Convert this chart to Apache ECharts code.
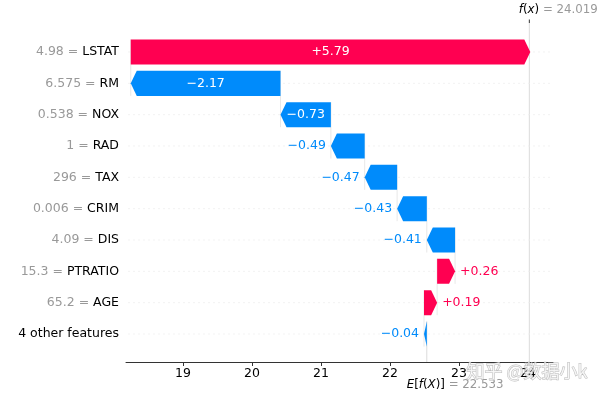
<!DOCTYPE html>
<html><head><meta charset="utf-8">
<script src="https://cdn.jsdelivr.net/npm/echarts@6/dist/echarts.min.js"></script>
<style>html,body{margin:0;padding:0;background:#fff}#c{width:600px;height:397px}</style>
</head><body><div id="c"></div>
<script>
// top-to-bottom order
const features = ['LSTAT','RM','NOX','RAD','TAX','CRIM','DIS','PTRATIO','AGE','4 other features'];
const featureValues = ['4.98','6.575','0.538','1','296','0.006','4.09','15.3','65.2',''];
const shapValues = [5.79,-2.17,-0.73,-0.49,-0.47,-0.43,-0.41,0.26,0.19,-0.04];
const baseValue = 22.533;
const fxValue = 24.019;
const xTicks = [19,20,21,22,23,24];

const RED = '#ff0051', BLUE = '#008bfb';
const FONT = 'DejaVu Sans';
const FS = 12.5;
const FSA = 11.8;
const n = features.length;
const Y_MIN = -0.894, Y_MAX = 9.926, X_MIN = 18.174, X_MAX = 24.362;

// build waterfall rows bottom-up (row 0 = bottom)
const barData = [];
let pos = baseValue;
for (let k = n - 1; k >= 0; k--) {
  const r = n - 1 - k;
  const s = pos, e = pos + shapValues[k];
  barData.push([r, s, e, shapValues[k]]);
  pos = e;
}
function fmt(v) { return (v >= 0 ? '+' : '\u2212') + Math.abs(v).toFixed(2); }

function renderBar(params, api) {
  const r = api.value(0), s = api.value(1), e = api.value(2), v = api.value(3);
  const p0 = api.coord([s, r]), p1 = api.coord([e, r]);
  const top = api.coord([s, r + 0.4])[1], bot = api.coord([s, r - 0.4])[1];
  const yc = p0[1], x0 = p0[0], x1 = p1[0];
  const w = Math.abs(x1 - x0);
  const h = Math.min(6, w);
  const dir = v >= 0 ? 1 : -1;
  const color = v >= 0 ? RED : BLUE;
  const children = [];
  const gl = api.coord([X_MIN, r])[0], gr = api.coord([X_MAX, r])[0];
  children.push({type: 'line', shape: {x1: gl + 2, y1: yc, x2: gr, y2: yc},
    style: {stroke: '#ececec', lineWidth: 0.7, lineDash: [2, 3]}, z2: -2});
  if (r > 0) {
    const cy1 = api.coord([s, r + 0.4])[1], cy2 = api.coord([s, r - 1.4])[1];
    children.push({type: 'line', shape: {x1: x0, y1: cy1, x2: x0, y2: cy2},
      style: {stroke: '#d8d8d8', lineWidth: 0.6}, z2: -1});
  }
  children.push({type: 'polygon',
    shape: {points: [[x0, top], [x1 - dir * h, top], [x1, yc], [x1 - dir * h, bot], [x0, bot]]},
    style: {fill: color}});
  const label = fmt(v);
  if (w > 44) {
    children.push({type: 'text', style: {text: label, x: (x0 + x1) / 2, y: yc, align: 'center',
      verticalAlign: 'middle', fill: '#fff', font: FS + 'px "' + FONT + '"'}});
  } else {
    children.push({type: 'text', style: {text: label, x: v < 0 ? x1 - 5 : x1 + 5, y: yc,
      align: v < 0 ? 'right' : 'left', verticalAlign: 'middle', fill: color, font: FS + 'px "' + FONT + '"'}});
  }
  return {type: 'group', children};
}

function renderAnno(params, api) {
  const fTop = api.coord([fxValue, Y_MAX]), fBot = api.coord([fxValue, Y_MIN]);
  const bBot = api.coord([baseValue, Y_MIN]), bTop = api.coord([baseValue, 0.4]);
  const rich = {i: {fontFamily: FONT, fontSize: FSA, fontStyle: 'italic', fill: '#000'},
                n: {fontFamily: FONT, fontSize: FSA, fill: '#000'},
                g: {fontFamily: FONT, fontSize: FSA, fill: '#999'}};
  return {type: 'group', children: [
    {type: 'line', shape: {x1: fTop[0], y1: fTop[1], x2: fBot[0], y2: fBot[1]}, style: {stroke: '#d0d0d0', lineWidth: 0.8}, z2: -1},
    {type: 'line', shape: {x1: bTop[0], y1: bTop[1], x2: bBot[0], y2: bBot[1]}, style: {stroke: '#d0d0d0', lineWidth: 0.8}, z2: -1},
    {type: 'line', shape: {x1: fTop[0], y1: fTop[1], x2: fTop[0], y2: fTop[1] - 3.5}, style: {stroke: '#333', lineWidth: 1}},
    {type: 'text', style: {x: fTop[0] - 10.5, y: fTop[1] - 13, align: 'left', verticalAlign: 'middle',
      text: '{i|f}{n|(}{i|x}{n|)}{g| = ' + fxValue.toFixed(3) + '}', rich}},
    {type: 'text', style: {x: bBot[0] - 20, y: bBot[1] + 23, align: 'left', verticalAlign: 'middle',
      text: '{i|E}{n|[}{i|f}{n|(}{i|X}{n|)]}{g| = ' + baseValue.toFixed(3) + '}', rich}}
  ]};
}

const chart = echarts.init(document.getElementById('c'), null, {renderer: 'canvas'});
chart.setOption({
  animation: false,
  backgroundColor: '#fff',
  grid: {left: 126, right: 47, top: 23, bottom: 35, containLabel: false},
  xAxis: {
    type: 'value', min: X_MIN, max: X_MAX,
    axisLine: {show: true, onZero: false, lineStyle: {color: '#333', width: 1}},
    axisTick: {show: true, customValues: xTicks, length: 4, lineStyle: {color: '#333'}},
    axisLabel: {customValues: xTicks, color: '#000', fontFamily: FONT, fontSize: FS, margin: 5,
      formatter: v => String(v)},
    splitLine: {show: false}
  },
  yAxis: {
    type: 'value', min: Y_MIN, max: Y_MAX,
    axisLine: {show: false}, axisTick: {show: false}, splitLine: {show: false},
    axisLabel: {
      customValues: features.map((_, i) => i), margin: 7,
      formatter: function (v) {
        const k = n - 1 - Math.round(v);
        const fv = featureValues[k];
        return fv ? '{g|' + fv + ' = }{b|' + features[k] + '}' : '{b|' + features[k] + '}';
      },
      rich: {g: {color: '#999', fontFamily: FONT, fontSize: FS},
             b: {color: '#000', fontFamily: FONT, fontSize: FS}}
    }
  },
  series: [
    {type: 'custom', renderItem: renderBar, data: barData, encode: {x: [1, 2], y: 0}, z: 3},
    {type: 'custom', renderItem: renderAnno, data: [[0]], z: 2, silent: true}
  ],
  graphic: [{
    type: 'text', left: 466, top: 362, z: 100, silent: true,
    style: {text: '知乎 @数据小k', font: '18px "Noto Sans CJK SC"', fill: 'rgba(255,255,255,0.75)',
      stroke: 'rgba(170,170,170,0.8)', lineWidth: 1}
  }]
});
</script></body></html>
